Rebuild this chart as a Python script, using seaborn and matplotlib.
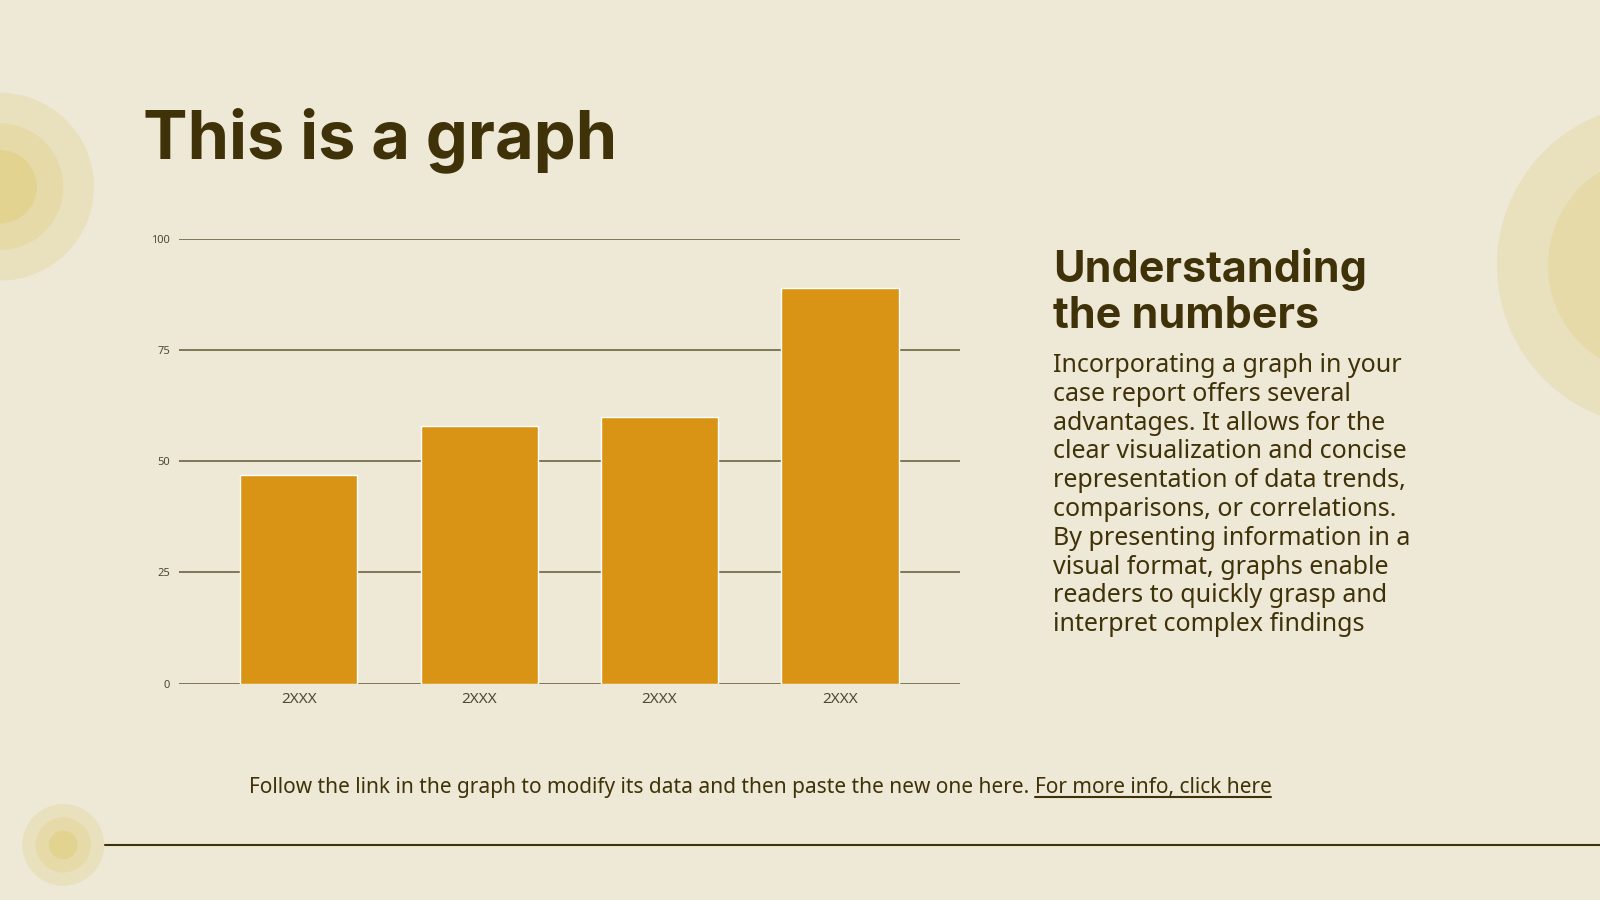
import matplotlib
matplotlib.use("Agg")
import matplotlib.pyplot as plt
import seaborn as sns
import pandas as pd
from matplotlib.patches import Circle

# data
years = ["2XXX", "2XXX ", "2XXX  ", "2XXX   "]
values = [47, 58, 60, 89]
yticks = [0, 25, 50, 75, 100]

BG = "#EEE8D6"
BAR = "#D99415"
DARK = "#3F3208"

sns.set_theme(style="white")
plt.rcParams["font.family"] = ["Noto Sans", "DejaVu Sans"]

fig = plt.figure(figsize=(16, 9), dpi=100, facecolor=BG)
W, H = 1568, 882

def fx(x): return x / W
def fy(y): return 1 - y / H

# decorative circles
deco = fig.add_axes([0, 0, 1, 1], facecolor="none")
deco.set_xlim(0, W); deco.set_ylim(H, 0); deco.axis("off")
for r, c in [(92, "#E9E0BE"), (62, "#E6DAA8"), (36, "#E3D391")]:
    deco.add_patch(Circle((0, 183), r, color=c, lw=0))
for r, c in [(158, "#E9E0BE"), (108, "#E6DAA8")]:
    deco.add_patch(Circle((1625, 260), r, color=c, lw=0))
for r, c in [(40, "#E9E0BE"), (27, "#E6DAA8"), (14, "#E3D391")]:
    deco.add_patch(Circle((62, 828), r, color=c, lw=0))
deco.plot([103, W], [828, 828], color=DARK, lw=1.5)

# chart
ax = fig.add_axes([fx(175), fy(670), fx(941) - fx(175), fy(234) - fy(670)])
ax.set_facecolor("none")
df = pd.DataFrame({"year": years, "value": values})
sns.barplot(data=df, x="year", y="value", color=BAR, saturation=1, width=0.65, ax=ax, zorder=3)
ax.set_xlim(-0.667, 3.667)
ax.set_ylim(0, 100)
ax.set_yticks(yticks)
ax.set_yticklabels([str(t) for t in yticks], fontsize=8, color="#4a4a3a")
ax.set_xticks(range(len(years)))
ax.set_xticklabels([y.strip() for y in years], fontsize=11, color="#4a4a3a")
ax.grid(axis="y", color="#6b6440", lw=1.2, zorder=0)
ax.set_axisbelow(True)
for s in ax.spines.values():
    s.set_visible(False)
ax.tick_params(length=0, pad=6)
ax.set_xlabel(""); ax.set_ylabel("")

# text
fig.text(fx(140), fy(155), "This is a graph", fontsize=48, fontweight="bold",
         color=DARK, family=["Inter", "DejaVu Sans"])
fig.text(fx(1032), fy(330), "Understanding\nthe numbers", fontsize=31, fontweight="bold",
         color=DARK, family=["Inter", "DejaVu Sans"], linespacing=1.15, va="bottom")
body = ("Incorporating a graph in your\ncase report offers several\nadvantages. It allows for the\n"
        "clear visualization and concise\nrepresentation of data trends,\ncomparisons, or correlations.\n"
        "By presenting information in a\nvisual format, graphs enable\nreaders to quickly grasp and\n"
        "interpret complex findings")
fig.text(fx(1032), fy(346), body, fontsize=18, color=DARK, va="top", linespacing=1.2)

t1 = fig.text(fx(244), fy(777), "Follow the link in the graph to modify its data and then paste the new one here. ",
              fontsize=15, color=DARK)
fig.canvas.draw()
r = fig.canvas.get_renderer()
bb = t1.get_window_extent(r)
x2 = bb.x1 / fig.bbox.width
t2 = fig.text(x2, fy(777), "For more info, click here", fontsize=15, color=DARK, fontweight="bold")
bb2 = t2.get_window_extent(r)
uy = (bb2.y0 + 1) / fig.bbox.height
fig.add_artist(plt.Line2D([bb2.x0 / fig.bbox.width, bb2.x1 / fig.bbox.width], [uy, uy],
                          color=DARK, lw=1.5, transform=fig.transFigure))

fig.savefig("out.png", dpi=100, facecolor=BG)
